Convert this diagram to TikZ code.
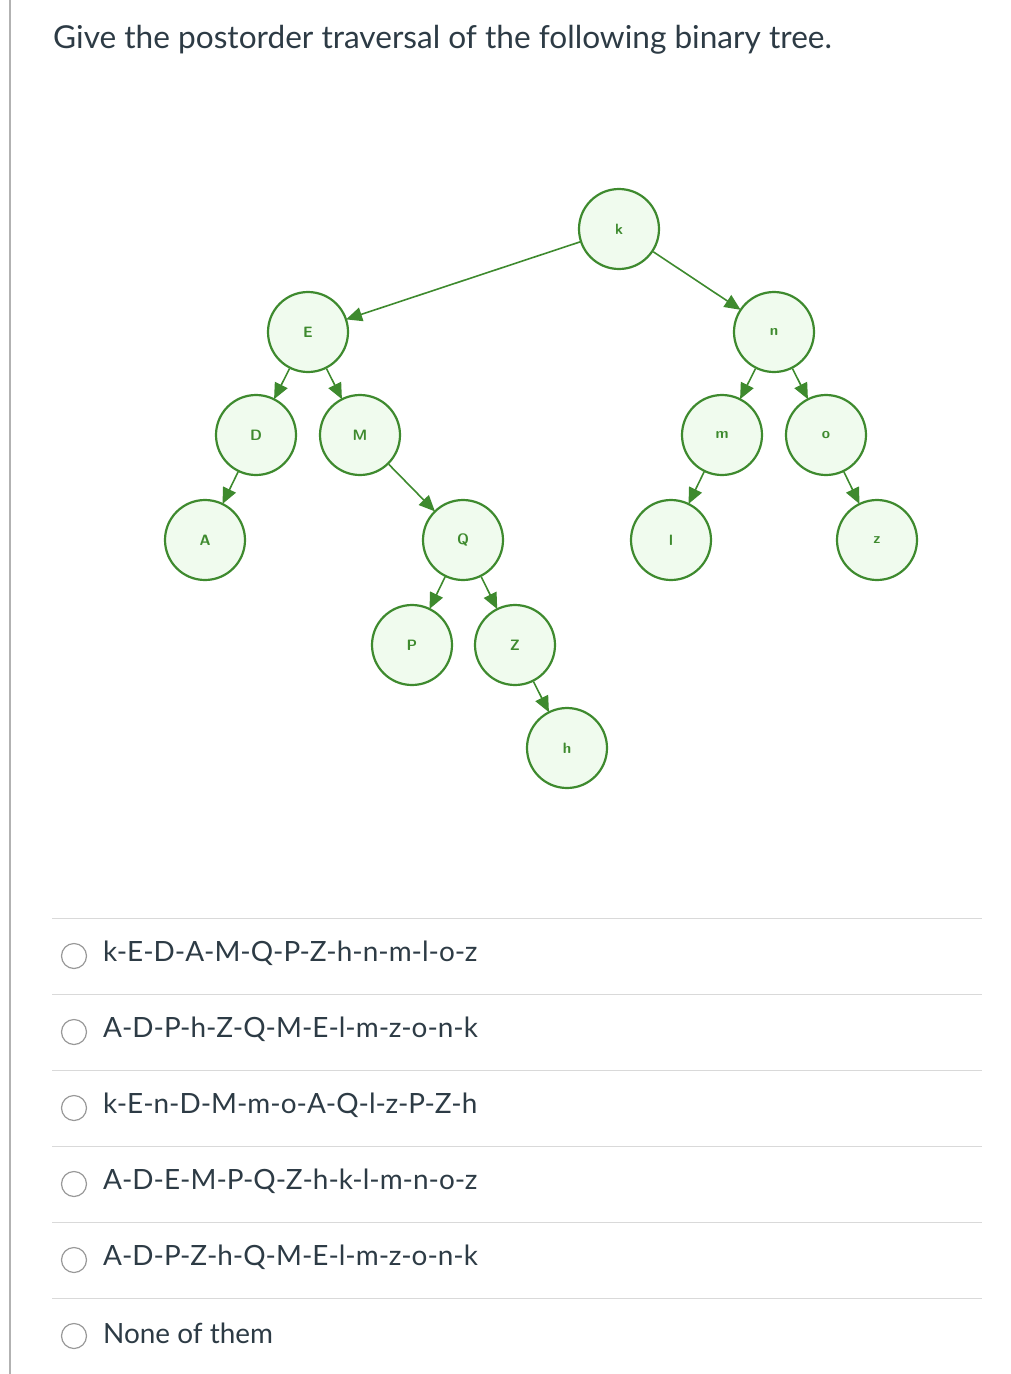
\documentclass[tikz,border=0pt]{standalone}
\usepackage{fontspec}
\setmainfont{Lato}
\usetikzlibrary{arrows.meta}
\definecolor{tg}{HTML}{3E8A2E}
\definecolor{tf}{HTML}{F0FBEE}
\definecolor{txt}{HTML}{2D3B45}
\begin{document}
\begin{tikzpicture}[x=1pt,y=-1pt,
 tn/.style={circle,draw=tg,fill=tf,line width=2.2pt,minimum size=80pt,inner sep=0pt,font=\fontsize{15}{15}\selectfont\bfseries\sffamily,text=tg},
 ed/.style={draw=tg,line width=1.6pt,-{Triangle[length=16pt,width=14pt]},shorten >=-1pt},
 opt/.style={anchor=west,font=\fontsize{27.9}{28}\selectfont,text=txt},
 radio/.style={circle,draw=gray!80,line width=1.2pt,minimum size=25pt,inner sep=0pt,fill=white},
 sep/.style={draw=gray!30,line width=1pt}]
\useasboundingbox (0,0) rectangle (1010,1374);
\draw[gray!60,line width=1.5pt] (10,0) -- (10,1374);
\node[anchor=west,font=\fontsize{31.6}{32}\selectfont,text=txt,inner sep=0pt] (title) at (53,40) {Give the postorder traversal of the following binary tree.};
\node[tn] (k) at (619,229) {k};
\node[tn] (E) at (308,332) {E};
\node[tn] (n) at (774,332) {n};
\node[tn] (D) at (256,435) {D};
\node[tn] (M) at (360,435) {M};
\node[tn] (m) at (722,435) {m};
\node[tn] (o) at (826,435) {o};
\node[tn] (A) at (205,540) {A};
\node[tn] (Q) at (463,540) {Q};
\node[tn] (l) at (671,540) {l};
\node[tn] (z) at (877,540) {z};
\node[tn] (P) at (412,645) {P};
\node[tn] (Z) at (515,645) {Z};
\node[tn] (h) at (567,748) {h};
\foreach \a/\b in {k/E,k/n,E/D,E/M,n/m,n/o,D/A,M/Q,m/l,o/z,Q/P,Q/Z,Z/h}
  \draw[ed] (\a) -- (\b);
\foreach \y/\t [count=\i] in {956/k-E-D-A-M-Q-P-Z-h-n-m-l-o-z,1032/A-D-P-h-Z-Q-M-E-l-m-z-o-n-k,1108/k-E-n-D-M-m-o-A-Q-l-z-P-Z-h,1184/A-D-E-M-P-Q-Z-h-k-l-m-n-o-z,1260/A-D-P-Z-h-Q-M-E-l-m-z-o-n-k,1336/None of them}{
  \node[radio] (r\i) at (74,\y) {};
  \node[opt,inner sep=0pt] (t\i) at (103,\y-3) {\t};
}
\foreach \y in {918,994,1070,1146,1222,1298}
  \draw[sep] (52,\y) -- (982,\y);
\end{tikzpicture}
\end{document}
